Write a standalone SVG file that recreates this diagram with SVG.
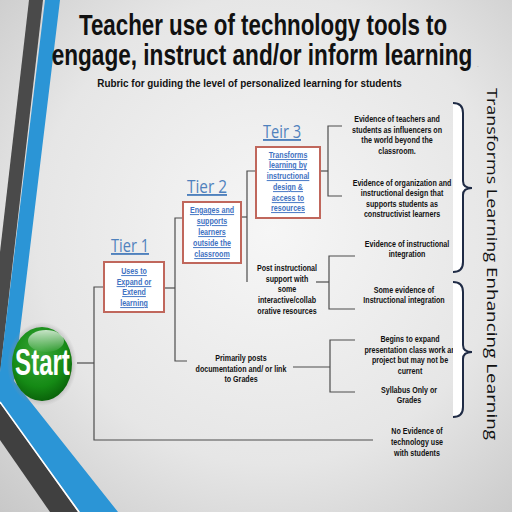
<svg xmlns="http://www.w3.org/2000/svg" width="512" height="512" viewBox="0 0 512 512">
<defs>
<radialGradient id="bg" cx="270" cy="230" r="390" gradientUnits="userSpaceOnUse">
<stop offset="0" stop-color="#f6f6f6"/>
<stop offset="0.6" stop-color="#e6e6e6"/>
<stop offset="1" stop-color="#c8c8c8"/>
</radialGradient>
<radialGradient id="green" cx="0.45" cy="0.35" r="0.65">
<stop offset="0" stop-color="#3aa83a"/>
<stop offset="0.7" stop-color="#158a15"/>
<stop offset="1" stop-color="#0a640a"/>
</radialGradient>
<radialGradient id="shadow" cx="0.5" cy="0.5" r="0.5">
<stop offset="0.75" stop-color="#777" stop-opacity="0.6"/>
<stop offset="1" stop-color="#999" stop-opacity="0"/>
</radialGradient>
<linearGradient id="gloss" x1="0" y1="0" x2="0" y2="1">
<stop offset="0" stop-color="#fff" stop-opacity="0.75"/>
<stop offset="1" stop-color="#fff" stop-opacity="0.05"/>
</linearGradient>
<style>
.t{font-family:"Liberation Sans",Arial,sans-serif;font-weight:bold;font-size:9.5px;fill:#111;text-anchor:middle}
.b{font-family:"Liberation Sans",Arial,sans-serif;font-weight:bold;font-size:9.5px;fill:#3f72c2;text-anchor:middle;text-decoration:underline}
.h{font-family:"Liberation Sans",Arial,sans-serif;font-weight:bold;fill:#111;text-anchor:middle}
.tier{font-family:"Open Sans","Liberation Sans",sans-serif;font-size:19px;fill:#4f81bd;text-decoration:underline}
.box{fill:#fff;stroke:#c0675c;stroke-width:2}
.c{fill:none;stroke:#4d4d4d;stroke-width:1.2}
.br{fill:none;stroke:#1f2b45;stroke-width:2}
.side{font-family:"Open Sans","Liberation Sans",sans-serif;font-size:14px;fill:#111}
</style>
</defs>
<rect width="512" height="512" fill="url(#bg)"/>
<g id="decoration">
<polygon points="29,0 43,0 0,374 0,252" fill="#4a4a4a"/>
<polygon points="45,0 60,0 14,381 118,512 80,512 0,402 0,372" fill="#2b95d6"/>
<polygon points="0,403 78,512 50,512 0,440" fill="#404040"/>
<line x1="0" y1="402" x2="79" y2="512" stroke="#fff" stroke-width="1.5"/>
</g>
<g id="title">
<text class="h" font-size="30" transform="matrix(0.745,0,0,1,263,0)" x="0" y="35">Teacher use of technology tools to</text>
<text class="h" font-size="30" transform="matrix(0.754,0,0,1,262,0)" x="0" y="65">engage, instruct and/or inform learning</text>
<text x="477" y="67" font-family="Liberation Sans,Arial,sans-serif" font-size="6" fill="#888">.</text>
<text class="h" font-size="11" transform="matrix(0.9,0,0,1,249.5,0)" x="0" y="87">Rubric for guiding the level of personalized learning for students</text>
</g>
<g id="connectors">
<polyline class="c" points="77,363 94,363"/>
<polyline class="c" points="104,287 94,287 94,440 373,440"/>
<polyline class="c" points="164,288 175,288"/>
<polyline class="c" points="183,218 175,218 175,361 187,361"/>
<polyline class="c" points="241,217 247,217"/>
<polyline class="c" points="256,171 247,171 247,282"/>
<polyline class="c" points="320,171 328,171"/>
<polyline class="c" points="342,126 328,126 328,196 342,196"/>
<polyline class="c" points="316,282 329,282"/>
<polyline class="c" points="355,256 329,256 329,309 355,309"/>
<polyline class="c" points="293,367 330,367"/>
<polyline class="c" points="355,340 330,340 330,392 355,392"/>
</g>
<g id="start">
<ellipse cx="42" cy="364" rx="35" ry="42" fill="url(#shadow)"/>
<ellipse cx="42" cy="364" rx="30" ry="37" fill="url(#green)"/>
<ellipse cx="46" cy="341" rx="18" ry="11" fill="url(#gloss)"/>
<text class="h" font-size="37" style="fill:#fff" transform="matrix(0.65,0,0,1,42.5,0)" x="0" y="375">Start</text>
</g>
<g id="tier1">
<text class="tier" x="111" y="252" textLength="38" lengthAdjust="spacingAndGlyphs">Tier 1</text>
<rect class="box" x="104" y="262" width="60" height="50"/>
<text class="b" transform="matrix(0.75,0,0,1,134,0)"><tspan x="0" y="274">Uses to</tspan><tspan x="0" y="285">Expand or</tspan><tspan x="0" y="295">Extend</tspan><tspan x="0" y="306">learning</tspan></text>
</g>
<g id="tier2">
<text class="tier" x="187" y="193" textLength="40" lengthAdjust="spacingAndGlyphs">Tier 2</text>
<rect class="box" x="183" y="202" width="58" height="61"/>
<text class="b" transform="matrix(0.75,0,0,1,212,0)"><tspan x="0" y="213">Engages and</tspan><tspan x="0" y="224">supports</tspan><tspan x="0" y="235">learners</tspan><tspan x="0" y="246">outside the</tspan><tspan x="0" y="257">classroom</tspan></text>
</g>
<g id="tier3">
<text class="tier" x="263" y="138" textLength="38" lengthAdjust="spacingAndGlyphs">Teir 3</text>
<rect class="box" x="256" y="147" width="64" height="71"/>
<text class="b" transform="matrix(0.75,0,0,1,288,0)"><tspan x="0" y="158">Transforms</tspan><tspan x="0" y="168">learning by</tspan><tspan x="0" y="179">instructional</tspan><tspan x="0" y="190">design &amp;</tspan><tspan x="0" y="201">access to</tspan><tspan x="0" y="211">resources</tspan></text>
</g>
<g id="post-instructional">
<text class="t" transform="matrix(0.75,0,0,1,287,0)"><tspan x="0" y="271">Post instructional</tspan><tspan x="0" y="282">support with</tspan><tspan x="0" y="292">some</tspan><tspan x="0" y="303">interactive/collab</tspan><tspan x="0" y="314">orative resources</tspan></text>
</g>
<g id="primarily-posts">
<text class="t" transform="matrix(0.75,0,0,1,241,0)"><tspan x="0" y="361">Primarily posts</tspan><tspan x="0" y="372">documentation and/ or link</tspan><tspan x="0" y="382">to Grades</tspan></text>
</g>
<g id="influencers">
<text class="t" transform="matrix(0.75,0,0,1,397,0)"><tspan x="0" y="122">Evidence of teachers and</tspan><tspan x="0" y="133">students as influencers on</tspan><tspan x="0" y="143">the world beyond the</tspan><tspan x="0" y="154">classroom.</tspan></text>
</g>
<g id="organization">
<text class="t" transform="matrix(0.75,0,0,1,402,0)"><tspan x="0" y="186">Evidence of organization and</tspan><tspan x="0" y="196">instructional design that</tspan><tspan x="0" y="207">supports students as</tspan><tspan x="0" y="217">constructivist learners</tspan></text>
</g>
<g id="integration">
<text class="t" transform="matrix(0.75,0,0,1,407,0)"><tspan x="0" y="247">Evidence of instructional</tspan><tspan x="0" y="257">integration</tspan></text>
</g>
<g id="some-integration">
<text class="t" transform="matrix(0.75,0,0,1,404,0)"><tspan x="0" y="293">Some evidence of</tspan><tspan x="0" y="303">Instructional integration</tspan></text>
</g>
<g id="begins">
<text class="t" transform="matrix(0.75,0,0,1,410,0)"><tspan x="0" y="342">Begins to expand</tspan><tspan x="0" y="353">presentation class work an</tspan><tspan x="0" y="363">project but may not be</tspan><tspan x="0" y="374">current</tspan></text>
</g>
<g id="syllabus">
<text class="t" transform="matrix(0.75,0,0,1,409,0)"><tspan x="0" y="393">Syllabus Only or</tspan><tspan x="0" y="403">Grades</tspan></text>
</g>
<g id="no-evidence">
<text class="t" transform="matrix(0.75,0,0,1,417,0)"><tspan x="0" y="434">No Evidence of</tspan><tspan x="0" y="445">technology use</tspan><tspan x="0" y="456">with students</tspan></text>
</g>
<g id="transforms-brace">
<path d="M453,103 C460,103 463,106 463,113 V181 C463,186 466,188 472,188 C466,188 463,190 463,195 V262 C463,269 460,272 453,272 Z" fill="#fff"/>
<path class="br" d="M453,103 C460,103 463,106 463,113 V181 C463,186 466,188 472,188 C466,188 463,190 463,195 V262 C463,269 460,272 453,272"/>
<text class="side" transform="translate(487,88) rotate(90)" textLength="174" lengthAdjust="spacingAndGlyphs">Transforms Learning</text>
</g>
<g id="enhancing-brace">
<path d="M453,282 C460,282 463,285 463,292 V345 C463,350 466,352 472,352 C466,352 463,354 463,359 V407 C463,414 460,417 453,417 Z" fill="#fff"/>
<path class="br" d="M453,282 C460,282 463,285 463,292 V345 C463,350 466,352 472,352 C466,352 463,354 463,359 V407 C463,414 460,417 453,417"/>
<text class="side" transform="translate(487,267) rotate(90)" textLength="173" lengthAdjust="spacingAndGlyphs">Enhancing Learning</text>
</g>
</svg>
